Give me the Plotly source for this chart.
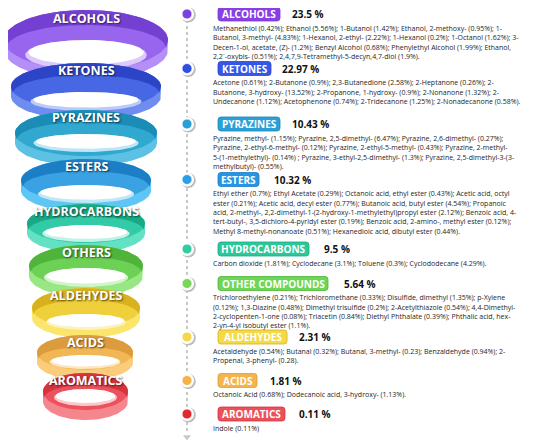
"""
volatile compound classes - ring funnel infographic
"""
import numpy as np
import plotly.graph_objects as go

# data
CLASSES = ["ALCOHOLS", "KETONES", "PYRAZINES", "ESTERS", "HYDROCARBONS",
           "OTHER COMPOUNDS", "ALDEHYDES", "ACIDS", "AROMATICS"]
RING_LABELS = ["ALCOHOLS", "KETONES", "PYRAZINES", "ESTERS", "HYDROCARBONS",
               "OTHERS", "ALDEHYDES", "ACIDS", "AROMATICS"]
SHARES = [23.5, 22.97, 10.43, 10.32, 9.5, 5.64, 2.31, 1.81, 0.11]

ALCOHOLS_TXT = [
    "Methanethiol (0.42%); Ethanol (5.56%); 1-Butanol (1.42%); Ethanol, 2-methoxy- (0.95%); 1-",
    "Butanol, 3-methyl- (4.83%); 1-Hexanol, 2-ethyl- (2.22%); 1-Hexanol (0.2%); 1-Octanol (1.62%); 3-",
    "Decen-1-ol, acetate, (Z)- (1.2%); Benzyl Alcohol (0.68%); Phenylethyl Alcohol (1.99%); Ethanol,",
    "2,2´-oxybis- (0.51%); 2,4,7,9-Tetramethyl-5-decyn,4,7-diol (1.9%).",
]
KETONES_TXT = [
    "Acetone (0.61%); 2-Butanone (0.9%); 2,3-Butanedione (2.58%); 2-Heptanone (0.26%); 2-",
    "Butanone, 3-hydroxy- (13.52%); 2-Propanone, 1-hydroxy- (0.9%); 2-Nonanone (1.32%); 2-",
    "Undecanone (1.12%); Acetophenone (0.74%); 2-Tridecanone (1.25%); 2-Nonadecanone (0.58%).",
]
PYRAZINES_TXT = [
    "Pyrazine, methyl- (1.15%); Pyrazine, 2,5-dimethyl- (6.47%); Pyrazine, 2,6-dimethyl- (0.27%);",
    "Pyrazine, 2-ethyl-6-methyl- (0.12%); Pyrazine, 2-ethyl-5-methyl- (0.43%); Pyrazine, 2-methyl-",
    "5-(1-methylethyl)- (0.14%) ; Pyrazine, 3-ethyl-2,5-dimethyl- (1.3%); Pyrazine, 2,5-dimethyl-3-(3-",
    "methylbutyl)- (0.55%).",
]
ESTERS_TXT = [
    "Ethyl ether (0.7%); Ethyl Acetate (0.29%); Octanoic acid, ethyl ester (0.43%); Acetic acid, octyl",
    "ester (0.21%); Acetic acid, decyl ester (0.77%); Butanoic acid, butyl ester (4.54%); Propanoic",
    "acid, 2-methyl-, 2,2-dimethyl-1-(2-hydroxy-1-methylethyl)propyl ester (2.12%); Benzoic acid, 4-",
    "tert-butyl-, 3,5-dichloro-4-pyridyl ester (0.19%); Benzoic acid, 2-amino-, methyl ester (0.12%);",
    "Methyl 8-methyl-nonanoate (0.51%); Hexanedioic acid, dibutyl ester (0.44%).",
]
HYDROCARBONS_TXT = [
    "Carbon dioxide (1.81%); Cyclodecane (3.1%); Toluene (0.3%); Cyclododecane (4.29%).",
]
OTHERS_TXT = [
    "Trichloroethylene (0.21%); Trichloromethane (0.33%); Disulfide, dimethyl (1.35%); p-Xylene",
    "(0.12%); 1,3-Diazine (0.48%); Dimethyl trisulfide (0.2%); 2-Acetylthiazole (0.54%); 4,4-Dimethyl-",
    "2-cyclopenten-1-one (0.08%); Triacetin (0.84%); Diethyl Phthalate (0.39%); Phthalic acid, hex-",
    "2-yn-4-yl isobutyl ester (1.1%).",
]
ALDEHYDES_TXT = [
    "Acetaldehyde (0.54%); Butanal (0.32%); Butanal, 3-methyl- (0.23); Benzaldehyde (0.94%); 2-",
    "Propenal, 3-phenyl- (0.28).",
]
ACIDS_TXT = ["Octanoic Acid (0.68%); Dodecanoic acid, 3-hydroxy- (1.13%)."]
AROMATICS_TXT = ["Indole (0.11%)"]

COMPOUNDS = [ALCOHOLS_TXT, KETONES_TXT, PYRAZINES_TXT, ESTERS_TXT, HYDROCARBONS_TXT,
             OTHERS_TXT, ALDEHYDES_TXT, ACIDS_TXT, AROMATICS_TXT]

# styling
# (band dark, top face, wall, hole tint, badge, dot)
PALETTE = [
    ("#7440d2", "#9866ee", "#b48ff7", "#dccafc", "#8a3fe6", "#7d3fe0"),
    ("#2c45c6", "#4767e4", "#6f8df0", "#bccaf7", "#3556e6", "#2f4fdf"),
    ("#1a8cb6", "#31a8d0", "#5cc1e2", "#bfe6f3", "#2aa0d6", "#2a9fd6"),
    ("#1c7fc6", "#3aa2e2", "#5dc6f5", "#bfe6f9", "#2796e2", "#2a9fe6"),
    ("#1aa985", "#33caa7", "#63e2c3", "#c0f3e6", "#2ec79c", "#33cca0"),
    ("#50b33a", "#6dd155", "#99e782", "#d2f5c7", "#6cd655", "#78d85a"),
    ("#d8b21e", "#efcf3a", "#fbe56c", "#fdf2bb", "#f4da46", "#f5d84a"),
    ("#dc9c3d", "#f1b756", "#fbcd7a", "#fde6c0", "#f4b54c", "#f4b24a"),
    ("#d5343f", "#ec525d", "#f6868d", "#fbc8cb", "#e8535b", "#e0282e"),
]
FONT = "Open Sans, Lato, sans-serif"

# ring geometry in px: cx, top, bottom, hole top, hole bottom, rx, band
RINGS = [
    (86, 10, 80, 40, 70, 82, 15),
    (86, 63, 120, 92, 111, 75, 12),
    (86, 110, 166, 134, 152, 71, 12),
    (86, 159, 212, 185, 203, 65, 12),
    (86, 204, 253, 225, 242, 59, 12),
    (86, 245, 297, 268, 287, 57, 12),
    (86, 288, 338, 314, 330, 54, 12),
    (85, 335, 380, 355, 369, 48, 12),
    (85.5, 373, 420, 389, 406, 42.5, 12),
]
WALL = 10

# right column positions
LINE_X = 187
BADGE_X = 218
BADGE_W = [62, 53, 62, 41, 91, 110, 69, 39, 67]
BADGE_H = 14
TEXT_X = 211
BADGE_Y = [14, 68.5, 124, 179.5, 249, 283.5, 337, 380.5, 414]
PCT_X = [290, 280, 290, 272, 322, 342, 297, 268, 297]
LINE_GAP = 9.3

# the page body adds an 8px margin; shift the axes so marks land where intended
OFF = 8


def arc(cx, cy, rx, ry, t0, t1, n=80):
    t = np.linspace(t0, t1, n)
    return cx + rx * np.cos(t), cy + ry * np.sin(t)


def poly(fig, xs, ys, color):
    fig.add_trace(go.Scatter(x=xs, y=ys, fill="toself", fillcolor=color,
                             mode="lines", line=dict(width=0),
                             hoverinfo="skip", showlegend=False))


def ring(fig, geom, colors, label):
    cx, top, bottom, htop, hbot, rx, band = geom
    dark, face, wall, tint = colors[:4]
    ry = (bottom - top - WALL) / 2
    cy = top + ry
    # side wall
    x1, y1 = arc(cx, cy, rx, ry, np.pi, 2 * np.pi)
    x2, y2 = arc(cx, cy + WALL, rx, ry, 0, np.pi)
    poly(fig, np.r_[x1, x2], np.r_[y1, y2], wall)
    # top face
    x, y = arc(cx, cy, rx, ry, 0, 2 * np.pi)
    poly(fig, x, y, face)
    # dark band at the back, running down the sides
    x2, y2 = arc(cx, cy + band * 0.55, rx * 0.975, ry - band * 0.45, 2 * np.pi, np.pi)
    poly(fig, np.r_[x1, x2], np.r_[y1, y2], dark)
    # hole
    hry = (hbot - htop) / 2
    hcy = htop + hry
    hrx = rx * 0.74
    x, y = arc(cx, hcy, hrx, hry, 0, 2 * np.pi)
    poly(fig, x, y, tint)
    x, y = arc(cx, hcy - hry * 0.18, hrx * 0.95, hry * 0.82, 0, 2 * np.pi)
    poly(fig, x, y, "white")
    fig.add_annotation(x=cx, y=top + band / 2 + 1, text="<b>%s</b>" % label,
                       showarrow=False, xanchor="center", yanchor="middle",
                       font=dict(family=FONT, size=12.5, color="white",
                                 shadow="1px 1px 2px rgba(0,0,0,0.6)"))


def rounded_rect(x0, y0, x1, y1, r):
    return ("M%g,%g L%g,%g Q%g,%g %g,%g L%g,%g Q%g,%g %g,%g L%g,%g Q%g,%g %g,%g "
            "L%g,%g Q%g,%g %g,%g Z" % (
                x0 + r, y0, x1 - r, y0, x1, y0, x1, y0 + r,
                x1, y1 - r, x1, y1, x1 - r, y1,
                x0 + r, y1, x0, y1, x0, y1 - r,
                x0, y0 + r, x0, y0, x0 + r, y0))


fig = go.Figure()

for geom, colors, label in zip(RINGS, PALETTE, RING_LABELS):
    ring(fig, geom, colors, label)

# timeline
fig.add_trace(go.Scatter(x=[LINE_X, LINE_X], y=[BADGE_Y[0], 433], mode="lines",
                         line=dict(color="#a5a5a5", width=1.2, dash="dot"),
                         hoverinfo="skip", showlegend=False))
fig.add_trace(go.Scatter(x=[LINE_X], y=[437], mode="markers",
                         marker=dict(symbol="triangle-down", size=7, color="#c8c8c8"),
                         hoverinfo="skip", showlegend=False))
fig.add_trace(go.Scatter(x=[LINE_X + 1.3] * len(BADGE_Y), y=[v + 0.9 for v in BADGE_Y],
                         mode="markers", marker=dict(size=15, color="#bdbdbd"),
                         hoverinfo="skip", showlegend=False))
fig.add_trace(go.Scatter(x=[LINE_X] * len(BADGE_Y), y=BADGE_Y, mode="markers",
                         marker=dict(size=14, color="white"),
                         hoverinfo="skip", showlegend=False))
fig.add_trace(go.Scatter(x=[LINE_X] * len(BADGE_Y), y=BADGE_Y, mode="markers",
                         marker=dict(size=10, color=[c[5] for c in PALETTE],
                                     line=dict(color="white", width=0.8)),
                         hoverinfo="skip", showlegend=False))

for name, share, lines, colors, by, px, bw in zip(CLASSES, SHARES, COMPOUNDS, PALETTE,
                                                  BADGE_Y, PCT_X, BADGE_W):
    fig.add_shape(type="path", xref="x", yref="y", layer="above",
                  path=rounded_rect(BADGE_X, by - BADGE_H / 2, BADGE_X + bw, by + BADGE_H / 2, 3),
                  fillcolor=colors[4], line=dict(color=colors[0], width=0.8))
    fig.add_annotation(x=BADGE_X + bw / 2, y=by, text="<b>%s</b>" % name,
                       showarrow=False, xanchor="center", yanchor="middle",
                       font=dict(family=FONT, size=10, color="white"))
    fig.add_annotation(x=px, y=by, text="<b>%g %%</b>" % share, showarrow=False,
                       xanchor="left", yanchor="middle",
                       font=dict(family=FONT, size=10, color="#111111"))
    for i, line in enumerate(lines):
        fig.add_annotation(x=TEXT_X, y=by + 14.4 + i * LINE_GAP, text=line,
                           showarrow=False, xanchor="left", yanchor="middle",
                           font=dict(family=FONT, size=7, color="#262626"))

fig.update_layout(
    width=550, height=444,
    margin=dict(l=0, r=0, t=0, b=0),
    paper_bgcolor="white", plot_bgcolor="white",
    showlegend=False,
    xaxis=dict(range=[OFF, 550 + OFF], visible=False, fixedrange=True),
    yaxis=dict(range=[444 + OFF, OFF], visible=False, fixedrange=True),
)

fig.write_html("out.html")
